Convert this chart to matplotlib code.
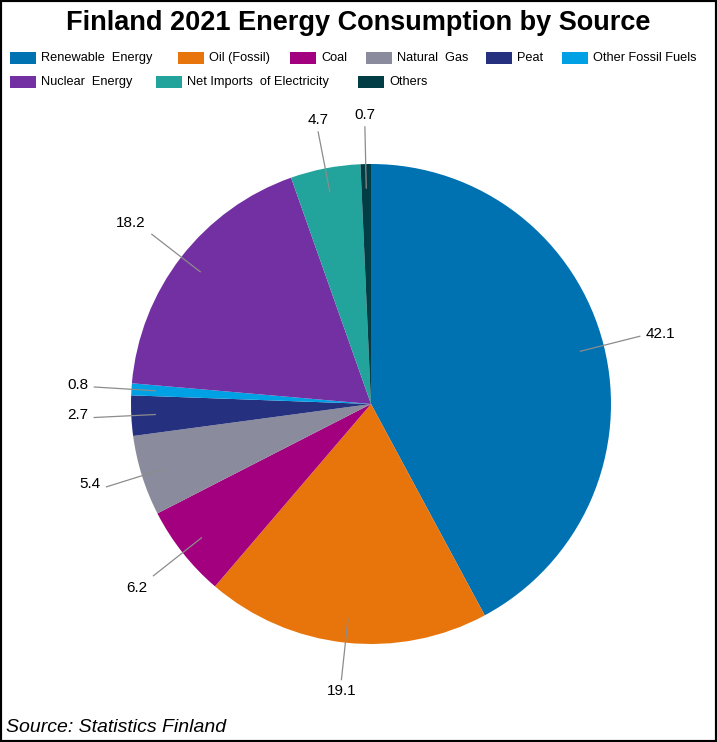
import numpy as np
import matplotlib
matplotlib.use("Agg")
from matplotlib import pyplot as plt
from matplotlib.patches import Rectangle

plt.rcParams['font.family'] = ['Liberation Sans', 'DejaVu Sans']

# data
sources = ['Renewable  Energy', 'Oil (Fossil)', 'Coal', 'Natural  Gas', 'Peat',
           'Other Fossil Fuels', 'Nuclear  Energy', 'Net Imports  of Electricity', 'Others']
shares = [42.1, 19.1, 6.2, 5.4, 2.7, 0.8, 18.2, 4.7, 0.7]
colors = ['#0071B1', '#E8750C', '#A2007E', '#8A8B9D', '#25307E',
          '#00A0E4', '#7230A2', '#22A39B', '#023C45']

W, H = 717, 742
fig = plt.figure(figsize=(W / 100, H / 100), dpi=100, facecolor='white')

# pie area in pixels: centre (371, 404), radius 240
cx, cy, r = 371, 404, 240
ax = fig.add_axes([(cx - r) / W, (H - cy - r) / H, 2 * r / W, 2 * r / H])
wedges, _ = ax.pie(shares, colors=colors, startangle=90, counterclock=False,
                   radius=1, wedgeprops=dict(linewidth=0))
ax.set_xlim(-1, 1)
ax.set_ylim(-1, 1)
ax.set_aspect('equal')
ax.set_axis_off()

for w, v in zip(wedges, shares):
    ang = np.deg2rad((w.theta1 + w.theta2) / 2)
    c, s = np.cos(ang), np.sin(ang)
    ax.plot([0.9 * c, 1.155 * c], [0.9 * s, 1.155 * s], color='#8c8c8c',
            lw=0.9, clip_on=False)
    ha = 'left' if c > 0.2 else ('right' if c < -0.2 else 'center')
    va = 'bottom' if s > 0.6 else ('top' if s < -0.6 else 'center')
    dx = 0.025 if ha == 'left' else (-0.025 if ha == 'right' else 0)
    dy = 0.02 if va == 'bottom' else (-0.02 if va == 'top' else 0.01)
    ax.text(1.155 * c + dx, 1.155 * s + dy, f'{v}', ha=ha, va=va,
            fontsize=11, color='black', clip_on=False)

fig.text(0.5, 1 - 23 / H, 'Finland 2021 Energy Consumption by Source',
         ha='center', va='center', fontsize=19.5, fontweight='bold')

# legend, laid out like the original
leg_pos = [(10, 58), (178, 58), (290, 58), (366, 58), (486, 58), (562, 58),
           (10, 82), (156, 82), (358, 82)]
for (px, py), name, col in zip(leg_pos, sources, colors):
    fig.patches.append(Rectangle((px / W, 1 - (py + 6) / H), 26 / W, 12 / H,
                                 transform=fig.transFigure, facecolor=col,
                                 edgecolor='none'))
    fig.text((px + 31) / W, 1 - py / H, name, ha='left', va='center',
             fontsize=9.2)

fig.text(6 / W, 1 - 727 / H, 'Source: Statistics Finland', ha='left',
         va='center', fontsize=14, fontstyle='italic')

fig.patches.append(Rectangle((0, 0), 1, 1, transform=fig.transFigure,
                             fill=False, edgecolor='black', linewidth=3))

fig.savefig('out.png', dpi=100, facecolor='white')
